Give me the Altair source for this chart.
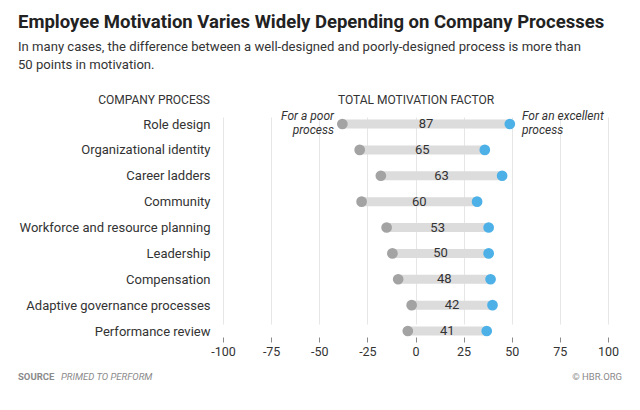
import altair as alt
import pandas as pd

categories = ["Role design", "Organizational identity", "Career ladders", "Community",
              "Workforce and resource planning", "Leadership", "Compensation",
              "Adaptive governance processes", "Performance review"]
poor = [-38, -29, -18, -28, -15, -12, -9, -2, -4]
excellent = [49, 36, 45, 32, 38, 38, 39, 40, 37]
totals = [87, 65, 63, 60, 53, 50, 48, 42, 41]
tick_values = [-100, -75, -50, -25, 0, 25, 50, 75, 100]

df = pd.DataFrame({"process": categories, "poor": poor, "excellent": excellent, "total": totals})
df["mid"] = (df["poor"] + df["excellent"]) / 2

FONT = "Roboto"
W, H = 385, 226
LEFT, TOP = 223, 111  # page position of the plot area

ysc = alt.Scale(type="point", range=[13, 220], padding=0, domain=categories)
xsc = alt.Scale(domain=[-100, 100], nice=False)

base = alt.Chart(df)

xaxis = alt.Axis(values=tick_values, title=None, domain=False, grid=True, gridColor="#e6e6e6",
                 tickColor="#8a8a8a", tickSize=5, labelFont=FONT, labelFontSize=12.5,
                 labelColor="#333333", labelPadding=3, labelFlush=False,
                 labelExpr="datum.value < 0 ? '-' + abs(datum.value) : '' + datum.value")
yaxis = alt.Axis(title=None, domain=False, ticks=False, labelFont=FONT, labelFontSize=13,
                 labelColor="#333333", labelPadding=13, grid=False, labelLimit=400)

bars = base.mark_rule(strokeWidth=9, strokeCap="round", color="#dcdcdc").encode(
    x=alt.X("poor:Q", scale=xsc, axis=xaxis),
    x2="excellent:Q",
    y=alt.Y("process:N", scale=ysc, axis=yaxis, sort=categories),
)
poor_dots = base.mark_circle(size=115, opacity=1, color="#a3a3a3").encode(
    x="poor:Q", y=alt.Y("process:N", sort=categories))
exc_dots = base.mark_circle(size=115, opacity=1, color="#4db1e8").encode(
    x="excellent:Q", y=alt.Y("process:N", sort=categories))
labels = base.mark_text(font=FONT, fontSize=13, color="#333333").encode(
    x="mid:Q", y=alt.Y("process:N", sort=categories), text="total:Q")


def txt(s, px, py, size=12.5, weight="normal", style="normal", color="#333333", align="left", font=FONT):
    return alt.Chart(pd.DataFrame({"t": [s]})).mark_text(
        font=font, fontSize=size, fontWeight=weight, fontStyle=style, color=color,
        align=align, baseline="middle"
    ).encode(x=alt.value(px - LEFT), y=alt.value(py - TOP), text="t:N")


title_text = "Employee Motivation Varies Widely Depending on Company Processes"
sub1 = "In many cases, the difference between a well-designed and poorly-designed process is more than"
sub2 = "50 points in motivation."

annots = [
    txt(title_text, 18, 22, size=18.5, weight="bold", color="#222222"),
    txt(sub1, 18, 47, size=13.1, color="#333333"),
    txt(sub2, 18, 65, size=13.1, color="#333333"),
    txt("COMPANY PROCESS", 210, 100, size=12, align="right"),
    txt("TOTAL MOTIVATION FACTOR", 416, 100, size=12, align="center"),
    txt("For a poor", 334, 115.5, size=12, style="italic", align="right"),
    txt("process", 334, 130, size=12, style="italic", align="right"),
    txt("For an excellent", 522, 115.5, size=12, style="italic", align="left"),
    txt("process", 522, 130, size=12, style="italic", align="left"),
    txt("SOURCE", 18, 377, size=9.5, weight="bold", color="#8a8a8a"),
    txt("PRIMED TO PERFORM", 61, 377, size=9.5, style="italic", color="#8a8a8a"),
    txt("© HBR.ORG", 622, 377, size=9.5, color="#8a8a8a", align="right"),
]

chart = alt.layer(bars, poor_dots, exc_dots, labels, *annots).properties(
    width=W, height=H,
    autosize=alt.AutoSizeParams(type="none"),
    padding={"left": LEFT - 8, "top": TOP - 8, "right": 640 - 8 - LEFT - W, "bottom": 410 - 8 - TOP - H},
    background="white",
).configure_view(stroke=None)

chart.save("out.html", embed_options={"renderer": "svg", "actions": False})
